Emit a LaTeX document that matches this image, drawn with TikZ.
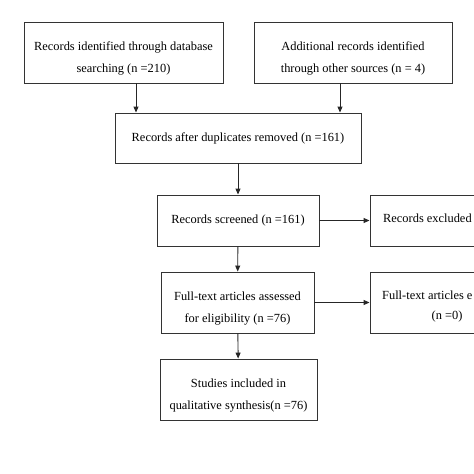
\documentclass[tikz,border=0pt]{standalone}
\usepackage{fontspec}
\setmainfont{Liberation Serif}
\usetikzlibrary{arrows.meta}
\newcommand{\upsp}{\rule{0pt}{20pt}}
\begin{document}
\begin{tikzpicture}[x=1pt,y=-1pt,
  box/.style={draw=black!80, line width=0.9pt, inner sep=0pt, align=center,
    font=\fontsize{12.4}{22}\selectfont},
  txt/.style={inner sep=0pt, font=\fontsize{12.4}{22}\selectfont},
  arr/.style={draw=black!85, line width=0.9pt, -{Triangle[length=6pt,width=5pt]}}]
\useasboundingbox (0,0) rectangle (474,474);
\clip (0,0) rectangle (474,474);
\node[box, minimum width=199pt, minimum height=61pt] (b1) at (123.5,52.5)
  {\upsp Records identified through database\\searching (n =210)};
\node[box, minimum width=198pt, minimum height=61pt] (b2) at (353,52.5)
  {\upsp Additional records identified\\through other sources (n = 4)};
\node[box, minimum width=246pt, minimum height=50pt] (b3) at (238,138)
  {Records after duplicates removed (n =161)};
\node[box, minimum width=162pt, minimum height=51pt] (b4) at (238,220.5)
  {Records screened (n =161)};
\node[box, minimum width=170pt, minimum height=51pt] (b5) at (455,220.5) {};
\node[txt, anchor=west] (t5) at (383,218) {Records excluded};
\node[box, minimum width=153pt, minimum height=61pt] (b6) at (237.5,302.5)
  {\upsp Full-text articles assessed\\for eligibility (n =76)};
\node[box, minimum width=170pt, minimum height=61pt] (b7) at (455,302.5) {};
\node[txt, anchor=west] (t7a) at (382,295) {Full-text articles e};
\node[txt] (t7b) at (447,317) {(n =0)};
\node[box, minimum width=157pt, minimum height=61pt] (b8) at (238.5,389.5)
  {\upsp Studies included in\\qualitative synthesis(n =76)};
\draw[arr] ([xshift=12.5pt]b1.south) -- ([xshift=12.5pt]b1.south |- b3.north);
\draw[arr] ([xshift=-13pt]b2.south) -- ([xshift=-13pt]b2.south |- b3.north);
\draw[arr] (b3) -- (b4);
\draw[arr] (b4) -- (b5);
\draw[arr] (b4) -- (b6);
\draw[arr] (b6) -- (b7);
\draw[arr] (b6) -- (b8);
\end{tikzpicture}
\end{document}
